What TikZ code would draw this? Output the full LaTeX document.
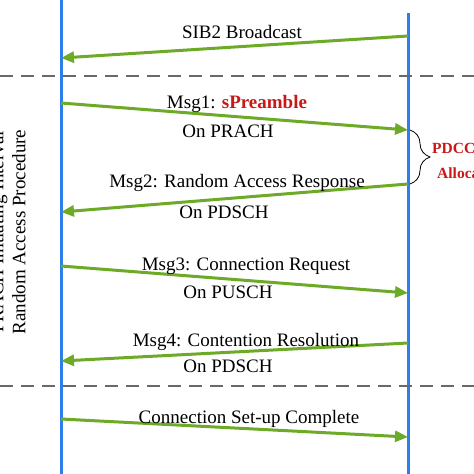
\documentclass[tikz,border=0pt]{standalone}
\usepackage{fontspec}
\setmainfont{Liberation Serif}
\usepackage{tikz}
\usetikzlibrary{arrows.meta,decorations.pathreplacing}
\definecolor{lifeblue}{RGB}{45,125,235}
\definecolor{msggreen}{RGB}{108,170,40}
\definecolor{noteRed}{RGB}{200,25,25}
\definecolor{phasegray}{RGB}{105,105,105}

\begin{document}
\begin{tikzpicture}[x=1pt,y=-1pt,font=\fontsize{19}{22}\selectfont,
  lifeline/.style={draw=lifeblue,line width=3pt},
  msg/.style={draw=msggreen,line width=3pt,-{Triangle[length=13pt,width=11pt]}},
  phase/.style={draw=phasegray,line width=1.6pt,dash pattern=on 13pt off 8pt},
  msglabel/.style={inner sep=0pt,anchor=base}]
\useasboundingbox (0,0) rectangle (474,474);
% lifelines
\coordinate (ueTop) at (61,0);
\coordinate (ueBot) at (61,474);
\coordinate (enbTop) at (408,13);
\coordinate (enbBot) at (408,474);
\draw[lifeline] (ueTop) -- (ueBot);
\draw[lifeline] (enbTop) -- (enbBot);
% phase separators
\coordinate (sepA left) at (0,76);
\coordinate (sepA right) at (474,76);
\coordinate (sepB left) at (0,386);
\coordinate (sepB right) at (474,386);
\draw[phase] (sepA left) -- (sepA right);
\draw[phase] (sepB left) -- (sepB right);
% message end points
\coordinate (sib enb) at (408,36);
\coordinate (sib ue) at (61,58);
\coordinate (msg1 ue) at (61,103);
\coordinate (msg1 enb) at (408,130);
\coordinate (msg2 enb) at (408,184);
\coordinate (msg2 ue) at (61,212);
\coordinate (msg3 ue) at (61,266);
\coordinate (msg3 enb) at (408,293);
\coordinate (msg4 enb) at (408,343);
\coordinate (msg4 ue) at (61,361);
\coordinate (setup ue) at (61,419);
\coordinate (setup enb) at (408,437);
% messages
\draw[msg] (sib enb) -- (sib ue);
\draw[msg] (msg1 ue) -- (msg1 enb);
\draw[msg] (msg2 enb) -- (msg2 ue);
\draw[msg] (msg3 ue) -- (msg3 enb);
\draw[msg] (msg4 enb) -- (msg4 ue);
\draw[msg] (setup ue) -- (setup enb);
% labels
\node[msglabel] (sibText) at (242,38) {SIB2 Broadcast};
\node[msglabel] (msg1Text) at (237,108) {Msg1: \textcolor{noteRed}{\textbf{sPreamble}}};
\node[msglabel] (msg1Ch) at (228,137) {On PRACH};
\node[msglabel] (msg2Text) at (237,187) {Msg2: Random Access Response};
\node[msglabel] (msg2Ch) at (224,218) {On PDSCH};
\node[msglabel] (msg3Text) at (246,270) {Msg3: Connection Request};
\node[msglabel] (msg3Ch) at (228,298) {On PUSCH};
\node[msglabel] (msg4Text) at (246,346) {Msg4: Contention Resolution};
\node[msglabel] (msg4Ch) at (228,372) {On PDSCH};
\node[msglabel] (setupText) at (249,423) {Connection Set-up Complete};
% PDCCH brace
\coordinate (braceTop) at (410,130);
\coordinate (braceBot) at (410,184);
\draw[line width=0.8pt,decorate,decoration={brace,amplitude=20pt,aspect=0.5}] (braceTop) -- (braceBot);
\node[inner sep=0pt,anchor=base west,text=noteRed,font=\fontsize{15.5}{18}\selectfont\bfseries] (pdcchText) at (432,153) {PDCCH};
\node[inner sep=0pt,anchor=base west,text=noteRed,font=\fontsize{15.5}{18}\selectfont\bfseries] (allocText) at (437,178) {Allocation};
% procedure label
\node[rotate=90,align=center,inner sep=0pt] (procText) at (8,232) {PRACH Initiating Interval\\Random Access Procedure};
\end{tikzpicture}
\end{document}
